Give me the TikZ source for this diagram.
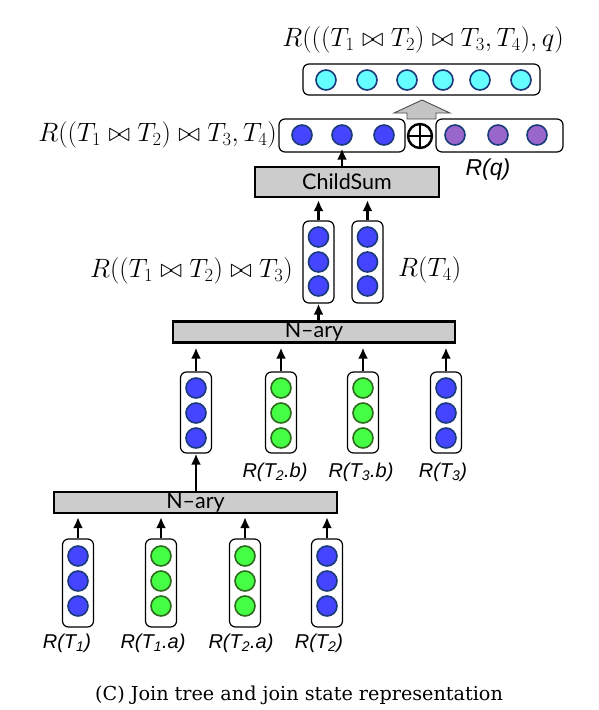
\RequirePackage{fix-cm}
\documentclass[tikz,border=0pt]{standalone}
\usepackage{fontspec}
\newfontfamily\labfont{Liberation Sans}
\newfontfamily\layfont{Lato}
\newfontfamily\capfont{DejaVu Serif}
\usetikzlibrary{arrows.meta,calc}
\definecolor{dotblue}{HTML}{4545FF}
\definecolor{dotgreen}{HTML}{44FF44}
\definecolor{dotcyan}{HTML}{66FFFF}
\definecolor{dotpurple}{HTML}{9966CC}
\definecolor{rimblue}{HTML}{1A3A7A}
\definecolor{rimgreen}{HTML}{2D6B1E}
\definecolor{layergray}{HTML}{CCCCCC}
\definecolor{bigarrgray}{HTML}{C4C4C4}
\begin{document}
\begin{tikzpicture}[x=1pt,y=-1pt,
  vecbox/.style={draw=black, line width=1.2pt, rounded corners=6pt, fill=white, inner sep=0pt},
  vvec/.style={vecbox, minimum width=31pt, minimum height=81pt},
  lvec/.style={vecbox, minimum width=31pt, minimum height=88pt},
  dot/.style={circle, inner sep=0pt, minimum size=20pt, line width=1.6pt},
  bdot/.style={dot, draw=rimblue, fill=dotblue},
  gdot/.style={dot, draw=rimgreen, fill=dotgreen},
  cdot/.style={dot, draw=rimblue, fill=dotcyan},
  pdot/.style={dot, draw=rimblue, fill=dotpurple},
  layer/.style={draw=black, line width=2.2pt, fill=layergray, inner sep=0pt, font=\layfont\fontsize{21.5}{23}\selectfont},
  arr/.style={-{Latex[length=11pt,width=10pt]}, line width=2.6pt},
  lab/.style={font=\labfont\itshape\fontsize{20}{24}\selectfont, inner sep=0pt},
  mlab/.style={font=\fontsize{26.5}{31}\selectfont, inner sep=0pt},
  caption/.style={font=\capfont\fontsize{19.2}{23}\selectfont, inner sep=0pt},
  oplus/.style={circle, draw=black, line width=2.4pt, minimum size=24pt, inner sep=0pt, fill=white,
    path picture={\draw[line width=2.4pt] (path picture bounding box.north) -- (path picture bounding box.south)
      (path picture bounding box.west) -- (path picture bounding box.east);}}
]
\useasboundingbox (0,0) rectangle (599,710);

% top output vector
\node[mlab] (toplab) at (423,40) {$R(((T_1 \bowtie T_2) \bowtie T_3, T_4), q)$};
\node[vecbox, minimum width=237pt, minimum height=31pt] (top) at (421.5,79.5) {};
\foreach \x [count=\i] in {326,367,407,443,480,521}
  \node[cdot] (c\i) at (\x,80) {};

% concatenation row
\node[vecbox, minimum width=126pt, minimum height=33pt] (bl) at (342,135.5) {};
\foreach \x [count=\i] in {302,342,384}
  \node[bdot] (b\i) at (\x,135) {};
\node[vecbox, minimum width=127pt, minimum height=33pt] (pq) at (499.5,135.5) {};
\foreach \x [count=\i] in {455,498,537}
  \node[pdot] (p\i) at (\x,135) {};
\node[oplus] (plus) at (420,136) {};
\coordinate (ga) at (422,100);
\draw[draw=black!70, line width=0.9pt, fill=bigarrgray]
  (ga) -- ($(ga)+(28,13)$) -- ($(ga)+(14,13)$) -- ($(ga)+(14,19)$) -- ($(ga)+(-15,19)$) -- ($(ga)+(-15,13)$) -- ($(ga)+(-28,13)$) -- cycle;
\node[mlab, anchor=east] (lab1) at (277,135) {$R((T_1 \bowtie T_2) \bowtie T_3, T_4)$};
\node[lab, font=\labfont\itshape\fontsize{23}{27}\selectfont] (rq) at (488,170) {R(q)};

% ChildSum
\node[layer, minimum width=184pt, minimum height=30pt] (cs) at (347,182) {ChildSum};
\draw[arr, shorten >=-4pt] (cs.north -| bl) -- (bl.south);

% middle vectors
\node[vvec, minimum height=82pt] (m1) at (318.5,262) {};
\node[vvec, minimum height=82pt] (m2) at (367.5,262) {};
\foreach \y [count=\i] in {237,262,286} {
  \node[bdot] (m1d\i) at (318.5,\y) {};
  \node[bdot] (m2d\i) at (367.5,\y) {};
}
\draw[arr, shorten >=2pt] (m1.north) -- (m1.north |- cs.south);
\draw[arr, shorten >=2pt] (m2.north) -- (m2.north |- cs.south);
\node[mlab, anchor=east] (lab2) at (293,271) {$R((T_1 \bowtie T_2) \bowtie T_3)$};
\node[mlab, anchor=west] (lab3) at (398,270) {$R(T_4)$};

% middle N-ary
\node[layer, minimum width=282pt, minimum height=21pt] (na1) at (314,332) {N\textendash ary};
\draw[arr] (na1.north -| m1) -- (m1.south);

% row of vectors
\foreach \x/\s [count=\i] in {196/bdot,281/gdot,363/gdot,446/bdot} {
  \node[vvec] (r\i) at (\x,412.5) {};
  \foreach \y [count=\j] in {388,413,438}
    \node[\s] (r\i d\j) at (\x,\y) {};
  \draw[arr, shorten >=4pt] (r\i.north) -- (r\i.north |- na1.south);
}
\node[lab] (l2b) at (275,472) {R(T\textsubscript{2}.b)};
\node[lab] (l3b) at (361,472) {R(T\textsubscript{3}.b)};
\node[lab] (l3) at (443,472) {R(T\textsubscript{3})};

% lower N-ary
\node[layer, minimum width=283pt, minimum height=21pt] (na2) at (195.5,502.5) {N\textendash ary};
\draw[arr] (na2.north -| r1) -- (r1.south);

% bottom vectors
\foreach \x/\s [count=\i] in {78/bdot,161/gdot,245/gdot,327/bdot} {
  \node[lvec] (q\i) at (\x,583) {};
  \foreach \y [count=\j] in {556,581,606}
    \node[\s] (q\i d\j) at (\x,\y) {};
  \draw[arr, shorten >=3pt] (q\i.north) -- (q\i.north |- na2.south);
}
\node[lab] (l1) at (67,643) {R(T\textsubscript{1})};
\node[lab] (l1a) at (153,643) {R(T\textsubscript{1}.a)};
\node[lab] (l2a) at (241,643) {R(T\textsubscript{2}.a)};
\node[lab] (l2) at (319,643) {R(T\textsubscript{2})};

\node[caption] (cap) at (299,695) {(C) Join tree and join state representation};
\end{tikzpicture}
\end{document}
